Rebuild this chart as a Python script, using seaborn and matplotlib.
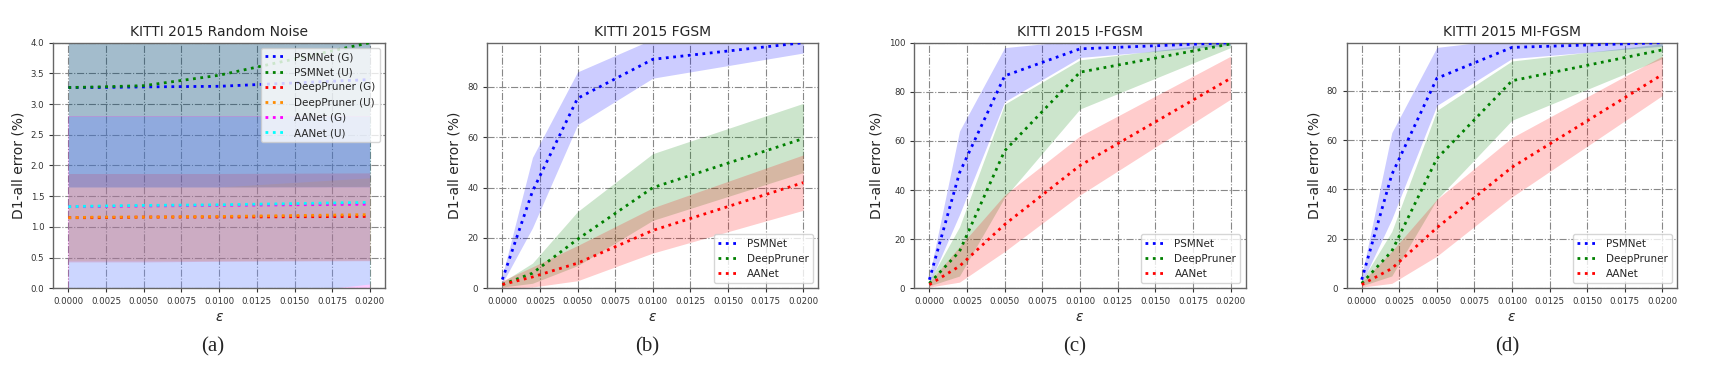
import matplotlib
matplotlib.use("Agg")
import matplotlib.pyplot as plt
import numpy as np
import pandas as pd
import seaborn as sns

# ---------------- data ----------------
EPS = [0.0, 0.002, 0.005, 0.01, 0.02]

# (a) KITTI 2015 Random Noise  (G = Gaussian, U = Uniform)
RN_PSM_G = [3.27, 3.27, 3.28, 3.29, 3.40]
RN_PSM_G_LO = [1.65, 1.65, 1.65, 1.65, 1.65]
RN_PSM_G_HI = [4.90, 4.90, 4.91, 4.93, 5.10]
RN_PSM_U = [3.27, 3.28, 3.30, 3.47, 4.00]
RN_PSM_U_LO = [1.65, 1.65, 1.65, 1.65, 1.66]
RN_PSM_U_HI = [4.90, 4.91, 4.95, 5.30, 6.30]
RN_DP_G = [1.15, 1.15, 1.16, 1.16, 1.17]
RN_DP_G_LO = [0.43, 0.43, 0.43, 0.44, 0.45]
RN_DP_G_HI = [1.87, 1.87, 1.87, 1.87, 1.88]
RN_DP_U = [1.15, 1.16, 1.16, 1.17, 1.20]
RN_DP_U_LO = [0.45, 0.45, 0.45, 0.45, 0.46]
RN_DP_U_HI = [1.65, 1.65, 1.65, 1.65, 1.80]
RN_AA_G = [1.33, 1.33, 1.34, 1.35, 1.37]
RN_AA_G_LO = [-0.30, -0.30, -0.30, -0.30, -0.30]
RN_AA_G_HI = [2.80, 2.80, 2.80, 2.80, 2.80]
RN_AA_U = [1.33, 1.34, 1.35, 1.36, 1.40]
RN_AA_U_LO = [-0.35, -0.35, -0.30, -0.20, 0.07]
RN_AA_U_HI = [2.80, 2.80, 2.80, 2.80, 2.80]

# (b) KITTI 2015 FGSM
FG_PSM = [3.5, 38.5, 75.5, 91.0, 97.6]
FG_PSM_LO = [2.0, 24.0, 65.0, 83.5, 93.5]
FG_PSM_HI = [5.0, 52.0, 86.0, 99.0, 101.0]
FG_DP = [1.5, 6.0, 19.5, 40.0, 59.5]
FG_DP_LO = [0.5, 2.0, 9.0, 27.0, 46.0]
FG_DP_HI = [2.5, 10.0, 30.5, 53.5, 73.5]
FG_AA = [1.5, 4.5, 10.0, 23.0, 42.0]
FG_AA_LO = [0.0, 0.5, 3.0, 14.0, 31.0]
FG_AA_HI = [3.0, 8.5, 17.0, 32.0, 53.0]

# (c) KITTI 2015 I-FGSM
IF_PSM = [3.5, 47.0, 86.5, 97.5, 100.0]
IF_PSM_LO = [2.0, 30.0, 76.0, 94.0, 99.0]
IF_PSM_HI = [5.0, 64.0, 98.0, 101.0, 101.0]
IF_DP = [2.0, 15.0, 56.0, 88.0, 99.5]
IF_DP_LO = [1.0, 5.0, 37.0, 73.0, 98.0]
IF_DP_HI = [3.0, 25.0, 75.0, 93.0, 100.5]
IF_AA = [1.5, 9.0, 26.0, 50.0, 85.5]
IF_AA_LO = [0.5, 2.5, 15.0, 38.0, 77.0]
IF_AA_HI = [2.5, 17.0, 38.0, 62.0, 94.5]

# (d) KITTI 2015 MI-FGSM
MI_PSM = [3.5, 46.0, 85.0, 97.5, 99.4]
MI_PSM_LO = [2.0, 28.0, 74.0, 93.0, 98.0]
MI_PSM_HI = [5.0, 63.0, 97.5, 101.0, 101.0]
MI_DP = [2.0, 15.0, 52.5, 84.0, 96.5]
MI_DP_LO = [1.0, 5.0, 36.0, 68.0, 93.0]
MI_DP_HI = [3.0, 23.0, 72.0, 92.0, 99.0]
MI_AA = [1.5, 8.0, 24.5, 49.0, 86.5]
MI_AA_LO = [0.5, 2.0, 13.0, 37.0, 78.0]
MI_AA_HI = [2.5, 15.0, 36.0, 61.0, 94.0]

TITLES = ["KITTI 2015 Random Noise", "KITTI 2015 FGSM",
          "KITTI 2015 I-FGSM", "KITTI 2015 MI-FGSM"]
PANEL_LABELS = ["(a)", "(b)", "(c)", "(d)"]
XTICKS = [0.0, 0.0025, 0.005, 0.0075, 0.01, 0.0125, 0.015, 0.0175, 0.02]

# ---------------- style ----------------
sns.set_theme(style="white")
plt.rcParams["font.family"] = ["DejaVu Sans"]

fig = plt.figure(figsize=(17.24, 3.67), dpi=100)
H = 367.0
W = 1724.0
ax_lefts = [53.3, 487.3, 914.3, 1346.7]
ax_rights = [385.0, 818.3, 1245.7, 1677.3]
ax_top, ax_bot = 42.7, 288.3
axes = []
for l, r in zip(ax_lefts, ax_rights):
    axes.append(fig.add_axes([l / W, 1 - ax_bot / H, (r - l) / W, (ax_bot - ax_top) / H]))

LW = 2.0
ALPHA = 0.2


def draw(ax, series, ylim, yticks, legend_loc):
    for mean, lo, hi, color, label in series:
        df = pd.DataFrame({"eps": EPS, "val": mean})
        ax.fill_between(EPS, lo, hi, color=color, alpha=ALPHA, linewidth=0, zorder=1)
        sns.lineplot(data=df, x="eps", y="val", ax=ax, color=color, linestyle=":",
                     linewidth=LW, label=label, zorder=3)
    ax.set_ylim(*ylim)
    ax.set_yticks(yticks)
    ax.set_xticks(XTICKS)
    ax.grid(True, linestyle="-.", color="#888888", linewidth=0.8)
    ax.set_axisbelow(True)
    for s in ax.spines.values():
        s.set_color("#666666")
        s.set_linewidth(1.0)
    ax.tick_params(axis="both", labelsize=6.2, colors="#333333", length=3,
                   width=0.8, direction="out", bottom=True, left=True)
    ax.set_xlabel(r"$\varepsilon$", fontsize=10, labelpad=3)
    ax.set_ylabel("D1-all error (%)", fontsize=10)
    leg = ax.legend(loc=legend_loc, fontsize=7.5, framealpha=0.8, handlelength=2.0)
    leg.get_frame().set_edgecolor("#cccccc")


draw(axes[0], [
    (RN_PSM_G, RN_PSM_G_LO, RN_PSM_G_HI, "blue", "PSMNet (G)"),
    (RN_PSM_U, RN_PSM_U_LO, RN_PSM_U_HI, "green", "PSMNet (U)"),
    (RN_DP_G, RN_DP_G_LO, RN_DP_G_HI, "red", "DeepPruner (G)"),
    (RN_DP_U, RN_DP_U_LO, RN_DP_U_HI, "darkorange", "DeepPruner (U)"),
    (RN_AA_G, RN_AA_G_LO, RN_AA_G_HI, "magenta", "AANet (G)"),
    (RN_AA_U, RN_AA_U_LO, RN_AA_U_HI, "cyan", "AANet (U)"),
], (0, 4.0), [0.0, 0.5, 1.0, 1.5, 2.0, 2.5, 3.0, 3.5, 4.0], "upper right")

draw(axes[1], [
    (FG_PSM, FG_PSM_LO, FG_PSM_HI, "blue", "PSMNet"),
    (FG_DP, FG_DP_LO, FG_DP_HI, "green", "DeepPruner"),
    (FG_AA, FG_AA_LO, FG_AA_HI, "red", "AANet"),
], (0, max(FG_PSM)), [0, 20, 40, 60, 80], "lower right")

draw(axes[2], [
    (IF_PSM, IF_PSM_LO, IF_PSM_HI, "blue", "PSMNet"),
    (IF_DP, IF_DP_LO, IF_DP_HI, "green", "DeepPruner"),
    (IF_AA, IF_AA_LO, IF_AA_HI, "red", "AANet"),
], (0, max(IF_PSM)), [0, 20, 40, 60, 80, 100], "lower right")

draw(axes[3], [
    (MI_PSM, MI_PSM_LO, MI_PSM_HI, "blue", "PSMNet"),
    (MI_DP, MI_DP_LO, MI_DP_HI, "green", "DeepPruner"),
    (MI_AA, MI_AA_LO, MI_AA_HI, "red", "AANet"),
], (0, max(MI_PSM)), [0, 20, 40, 60, 80], "lower right")

for ax, t in zip(axes, TITLES):
    ax.set_title(t, fontsize=10, pad=5)

label_x = [213, 647, 1075, 1507]
for x, lab in zip(label_x, PANEL_LABELS):
    fig.text(x / W, 1 - 347 / H, lab, ha="center", va="center",
             family=["Liberation Serif", "DejaVu Serif"], fontsize=15)

fig.savefig("out.png", dpi=100)
